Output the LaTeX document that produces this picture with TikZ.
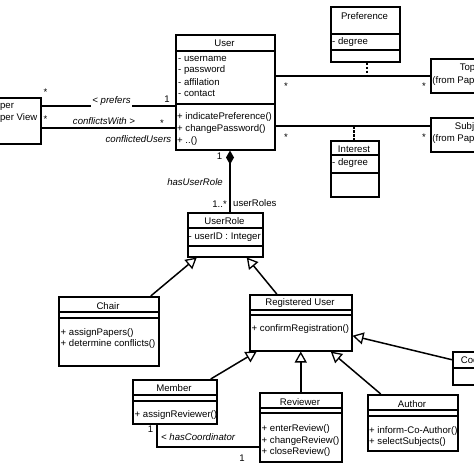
\documentclass[tikz,border=0pt]{standalone}
\usepackage{fontspec}
\setmainfont{Liberation Sans}
\usetikzlibrary{arrows.meta}
\newcommand\fsz{\fontsize{9.6}{11.4}\selectfont}
\newcommand\umlbox[5]{\node[cls,minimum width={(#4-#2)*1pt},minimum height={(#5-#3)*1pt}] (#1) at (#2,#3) {};}
\newcommand\usep[3]{\draw[sepl] (#1,#3) -- (#2,#3);}
\begin{document}
\begin{tikzpicture}[x=1pt,y=-1pt,
  cls/.style={draw,line width=1.5pt,inner sep=0,anchor=north west},
  sepl/.style={line width=1.4pt},
  conn/.style={line width=1.5pt},
  gen/.style={line width=1.5pt,-{Triangle[open,fill=white,length=11pt,width=12pt,line width=1.3pt]}},
  comp/.style={line width=1.5pt,{Diamond[length=14pt,width=8pt]}-},
  dep/.style={line width=1.5pt,dash pattern=on 2.5pt off 1.5pt},
  t/.style={font=\fsz,inner sep=0,anchor=west},
  tc/.style={font=\fsz,inner sep=0},
  ti/.style={font=\fsz\itshape,inner sep=0},
]
\useasboundingbox[fill=white] (0,0) rectangle (474,474);
% boxes
\umlbox{paper}{-70}{97}{40}{143}
\umlbox{user}{175}{34}{274}{149}\usep{175}{274}{51}\usep{175}{274}{104}
\umlbox{pref}{330}{6}{399}{61}\usep{330}{399}{34}\usep{330}{399}{50}
\umlbox{topic}{430}{58}{512}{92}
\umlbox{subject}{430}{117}{512}{151}
\umlbox{interest}{330}{140}{378}{196}\usep{330}{378}{155}\usep{330}{378}{173}
\umlbox{userrole}{187}{212}{262}{256}\usep{187}{262}{228}\usep{187}{262}{246}
\umlbox{chair}{58}{296}{158}{365}\usep{58}{158}{312}\usep{58}{158}{318}
\umlbox{reguser}{249}{294}{351}{350}\usep{249}{351}{310}\usep{249}{351}{315}
\umlbox{member}{132}{379}{216}{423}\usep{132}{216}{395}\usep{132}{216}{401}
\umlbox{reviewer}{259}{392}{341}{461}\usep{259}{341}{408}\usep{259}{341}{413}
\umlbox{author}{367}{394}{457}{450}\usep{367}{457}{410}\usep{367}{457}{416}
\umlbox{coord}{452}{351}{530}{384}\usep{452}{530}{368}
% texts
\node[t] (paperA) at (-11.8,106) {Paper};
\node[t] (paperB) at (-11.8,118) {Paper View};
\node[tc] (userT) at (224.5,43) {User};
\node[t] (ua1) at (178,59) {- username};
\node[t] (ua2) at (178,70.5) {- password};
\node[t] (ua3) at (178,82) {- affilation};
\node[t] (ua4) at (178,93.5) {- contact};
\node[t] (um1) at (177,117) {+ indicatePreference()};
\node[t] (um2) at (177,129) {+ changePassword()};
\node[t] (um3) at (177,141.5) {+ ..()};
\node[tc] (prefT) at (364.5,16) {Preference};
\node[t] (prefA) at (332,42) {- degree};
\node[tc] (topA) at (471,68) {Topic};
\node[tc] (topB) at (471,81) {(from Paper View)};
\node[tc] (subA) at (471,127) {Subject};
\node[tc] (subB) at (471,139) {(from Paper View)};
\node[tc] (intT) at (354,149) {Interest};
\node[t] (intA) at (332,163.5) {- degree};
\node[tc] (urT) at (224.5,221.5) {UserRole};
\node[t] (urA) at (188.5,237) {- userID : Integer};
\node[tc] (chT) at (108,306) {Chair};
\node[t] (chM1) at (60.5,333) {+ assignPapers()};
\node[t] (chM2) at (60.5,344.5) {+ determine conflicts()};
\node[tc] (ruT) at (300,303) {Registered User};
\node[t] (ruM) at (251.5,329) {+ confirmRegistration()};
\node[tc] (meT) at (174,388.5) {Member};
\node[t] (meM) at (134.5,415) {+ assignReviewer()};
\node[tc] (rvT) at (300,402.5) {Reviewer};
\node[t] (rvM1) at (261.5,429) {+ enterReview()};
\node[t] (rvM2) at (261.5,441) {+ changeReview()};
\node[t] (rvM3) at (261.5,452) {+ closeReview()};
\node[tc] (auT) at (412,404) {Author};
\node[t] (auM1) at (369,431) {+ inform-Co-Author()};
\node[t] (auM2) at (369,442.5) {+ selectSubjects()};
\node[tc] (coT) at (486,360) {Coordinator};
% coordinates for connectors
\coordinate (y106) at (0,106);
\coordinate (y128) at (0,128);
\coordinate (y76) at (0,76);
\coordinate (y126) at (0,126);
\coordinate (a1) at (367,76);
\coordinate (a2) at (354,126);
\coordinate (cx) at (230,180);
\coordinate (hc) at (0,447);
% associations
\draw[conn] (paper.east |- y106) -- (user.west |- y106);
\draw[conn] (paper.east |- y128) -- (user.west |- y128);
\draw[conn] (user.east |- y76) -- (topic.west |- y76);
\draw[conn] (user.east |- y126) -- (subject.west |- y126);
\draw[dep] (a1 |- pref.south) -- (a1);
\draw[dep] (a2) -- (a2 |- interest.north);
\draw[comp] (user.south -| cx) -- (userrole.north -| cx);
\draw[conn] ([xshift=-18pt]member.south) |- (reviewer.west |- hc);
% generalizations
\draw[gen] ([xshift=42pt]chair.north) -- ([xshift=-28.5pt]userrole.south);
\draw[gen] ([xshift=-24pt]reguser.north) -- ([xshift=21.5pt]userrole.south);
\draw[gen] ([xshift=36pt]member.north) -- ([xshift=-44pt]reguser.south);
\draw[gen] (reviewer.north) -- (reguser.south);
\draw[gen] ([xshift=-32pt]author.north) -- ([xshift=30pt]reguser.south);
\draw[gen] ([yshift=8.5pt]coord.west) -- ([yshift=-13pt]reguser.east);
% labels
\node[ti,fill=white,inner xsep=1pt,inner ysep=2pt] (lpref) at (111.5,101) {< prefers};
\node[ti] (lconf) at (104,121) {conflictsWith >};
\node[ti,anchor=east] (lcu) at (171.5,139) {conflictedUsers};
\node[ti] (lhur) at (195,182) {hasUserRole};
\node[t] (lur) at (233,203) {userRoles};
\node[t,anchor=east] (m1b) at (227,204) {1..*};
\node[tc] (m1a) at (219.5,156) {1};
\node[tc] (s1) at (45.5,92) {*};
\node[tc] (o1) at (167,99) {1};
\node[tc] (s2) at (45.5,119) {*};
\node[tc] (s3) at (162,123) {*};
\node[tc] (s4) at (286,86) {*};
\node[tc] (s5) at (424,86) {*};
\node[tc] (s6) at (286,137) {*};
\node[tc] (s7) at (424,137) {*};
\node[tc] (hc1) at (150.5,429.5) {1};
\node[ti,anchor=west] (lhc) at (161,437) {< hasCoordinator};
\node[tc] (hc2) at (242,458) {1};
\end{tikzpicture}
\end{document}
